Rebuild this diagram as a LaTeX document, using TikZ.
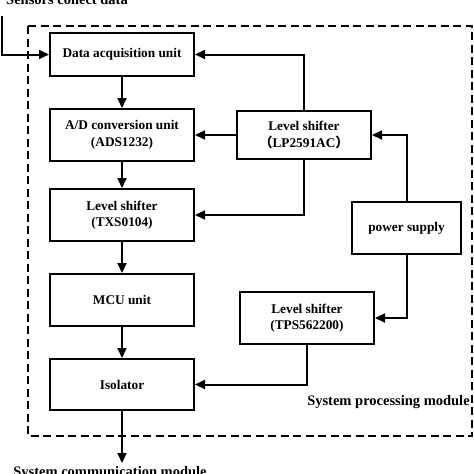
\documentclass[tikz,border=0pt]{standalone}
\usepackage{fontspec}
\setmainfont{Liberation Serif}
\newfontfamily\cjk{Noto Sans CJK SC}
\usetikzlibrary{shapes,arrows.meta}
\tikzstyle{unit} = [rectangle, draw=black, line width=2pt, minimum width=144pt, minimum height=52pt, align=center, font=\fontsize{13.3}{16.5}\selectfont\bfseries]
\tikzstyle{link} = [line width=2pt, -{Triangle[length=10pt,width=9pt]}]
\tikzstyle{label} = [font=\fontsize{14.5}{16}\selectfont\bfseries]

\begin{document}
\begin{tikzpicture}[x=1pt,y=-1pt]
                \useasboundingbox (0,0) rectangle (474,474);
                \draw[line width=2pt, dash pattern=on 8pt off 4.5pt] (28,26) rectangle (472,436);
                \node[unit, minimum height=43pt] (daq) at (122,54.5){Data acquisition unit};
                \node[unit] (adc) at (122,135){A/D conversion unit\\(ADS1232)};
                \node[unit] (lstxs) at (122,215){Level shifter\\(TXS0104)};
                \node[unit] (mcu) at (122,300){MCU unit};
                \node[unit, minimum height=51pt] (iso) at (122,384.5){Isolator};
                \node[unit, minimum width=134pt, minimum height=48pt] (lslp) at (304,135){Level shifter\\{\cjk （}LP2591AC{\cjk ）}};
                \node[unit, minimum width=109pt] (power) at (406.5,228){power supply};
                \node[unit, minimum width=134pt] (lstps) at (307,318){Level shifter\\(TPS562200)};
                \node[label, anchor=center] (proc) at (388.5,402){System processing module};
                \node[label, anchor=center] (sens) at (67,0){Sensors collect data};
                \node[label, anchor=north] (comm) at (110,463){System communication module};
                \coordinate (sensin) at (1.5,16);
                \draw[link] (sensin) |- (daq.west);
                \draw[link] (daq) -- (adc);
                \draw[link] (adc) -- (lstxs);
                \draw[link] (lstxs) -- (mcu);
                \draw[link] (mcu) -- (iso);
                \draw[link] (iso.south) -- (iso.south |- comm.north);
                \draw[link] (lslp.north) |- (daq.east);
                \draw[link] (lslp.west) -- (adc.east);
                \draw[link] (lslp.south) |- (lstxs.east);
                \draw[link] (power.north) |- (lslp.east);
                \draw[link] (power.south) |- (lstps.east);
                \draw[link] (lstps.south) |- (iso.east);
             \end{tikzpicture}
\end{document}
